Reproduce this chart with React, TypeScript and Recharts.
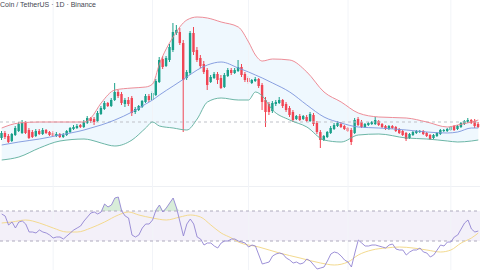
import {
  Area,
  Bar,
  ComposedChart,
  Line,
  ReferenceArea,
  ReferenceLine,
  XAxis,
  YAxis,
} from "recharts";

// daily candles (arbitrary price units)
const opens = [
  62, 67, 64, 59, 65, 69, 67, 77, 70, 68,
  64, 69, 66, 70, 68, 67, 64, 66, 63, 65,
  68, 71, 72, 75, 73, 77, 82, 81, 79, 86,
  91, 97, 94, 100, 108, 106, 96, 100, 102, 88,
  90, 93, 98, 104, 100, 105, 118, 141, 134, 140,
  150, 167, 168, 157, 122, 127, 167, 150, 142, 136,
  130, 118, 122, 126, 122, 113, 124, 130, 127, 129,
  133, 126, 122, 117, 119, 121, 115, 100, 96, 89,
  96, 97, 100, 96, 92, 88, 81, 84, 81, 83,
  79, 85, 77, 68, 60, 63, 67, 71, 74, 76,
  74, 72, 70, 67, 81, 78, 73, 75, 76, 76,
  79, 76, 74, 71, 74, 73, 71, 69, 67, 62,
  65, 67, 68, 69, 67, 65, 62, 64, 66, 69,
  69, 70, 74, 71, 73, 76, 78, 80, 79, 76,
];
const closes = [
  67, 63, 58, 66, 72, 76, 77, 67, 62, 63,
  69, 66, 70, 67, 65, 64, 66, 63, 65, 69,
  72, 73, 74, 73, 78, 82, 79, 78, 87, 92,
  97, 94, 100, 108, 104, 97, 100, 96, 87, 91,
  94, 99, 104, 100, 107, 119, 140, 133, 142, 153,
  168, 170, 157, 120, 128, 167, 148, 140, 134, 128,
  115, 123, 126, 120, 112, 125, 130, 127, 130, 133,
  125, 120, 118, 120, 121, 114, 98, 88, 88, 97,
  98, 100, 94, 90, 85, 80, 84, 80, 84, 79,
  86, 76, 68, 60, 64, 68, 72, 75, 77, 73,
  71, 69, 58, 80, 75, 73, 76, 77, 78, 80,
  75, 73, 71, 74, 72, 69, 67, 65, 61, 66,
  68, 69, 69, 66, 64, 61, 65, 67, 70, 70,
  71, 73, 70, 74, 77, 79, 80, 77, 74, 73,
];
const highs = [
  69, 69, 66, 67, 74, 78, 80, 79, 72, 70,
  71, 71, 72, 71, 69, 69, 68, 67, 67, 70,
  73, 75, 76, 76, 80, 84, 83, 83, 89, 94,
  99, 98, 102, 117, 110, 108, 102, 103, 104, 93,
  95, 100, 106, 106, 109, 121, 143, 144, 144, 156,
  177, 175, 172, 160, 130, 169, 173, 153, 145, 139,
  132, 125, 128, 128, 125, 127, 132, 132, 132, 140,
  136, 128, 124, 121, 123, 122, 117, 103, 98, 99,
  100, 103, 101, 98, 94, 90, 85, 86, 85, 85,
  88, 87, 79, 70, 65, 69, 74, 77, 79, 78,
  75, 73, 72, 82, 83, 80, 77, 78, 79, 83,
  80, 77, 75, 75, 75, 74, 72, 70, 68, 67,
  69, 70, 70, 70, 68, 66, 66, 68, 71, 71,
  72, 74, 75, 75, 78, 80, 82, 81, 81, 78,
];
const lows = [
  60, 61, 57, 58, 64, 68, 66, 66, 61, 62,
  63, 65, 65, 66, 64, 63, 63, 62, 62, 64,
  67, 70, 71, 72, 72, 76, 77, 75, 78, 85,
  90, 93, 93, 99, 102, 95, 93, 94, 84, 86,
  89, 92, 97, 98, 99, 104, 117, 131, 133, 138,
  148, 165, 155, 68, 120, 125, 145, 138, 132, 126,
  110, 117, 121, 116, 111, 112, 123, 125, 126, 128,
  123, 118, 116, 116, 118, 112, 90, 73, 85, 87,
  94, 96, 92, 88, 83, 78, 80, 79, 80, 78,
  78, 74, 66, 52, 59, 62, 66, 70, 73, 72,
  70, 68, 55, 66, 74, 72, 72, 74, 75, 75,
  74, 72, 70, 70, 71, 68, 66, 64, 59, 61,
  64, 66, 67, 65, 63, 60, 61, 63, 65, 68,
  68, 69, 69, 70, 72, 75, 77, 76, 72, 72,
];

// bollinger bands, read at these candle indices
const bbIndex = [0, 5, 11, 17, 24, 26, 29, 33, 38, 42, 44, 46, 50, 54, 57, 60, 64, 69, 72, 74, 76, 79, 84, 89, 94, 99, 104, 110, 118, 124, 130, 133, 137, 139];
const bbUpper = [72, 77, 78, 78, 78, 82, 97, 110, 112, 113, 116, 136, 163, 180, 183, 182, 178, 173, 158, 145, 139, 141, 140, 128, 108, 98, 87, 83, 82, 78, 73, 75, 78, 80];
const bbBasis = [55, 58, 61, 65, 70, 72, 75, 80, 88, 96, 100, 105, 114, 123, 130, 135, 138, 132, 128, 125, 122, 117, 108, 95, 83, 77, 73, 72, 70, 68, 67, 68, 72, 72];
const bbLower = [40, 43, 52, 59, 61, 60, 57, 54, 60, 72, 78, 74, 72, 70, 81, 98, 102, 100, 100, 108, 104, 90, 80, 73, 60, 58, 65, 66, 62, 61, 59, 58, 59, 60];

const lastLine = 78;

// RSI per candle
const rsiValues = [
  62, 60, 51, 54, 48, 54, 55, 52, 44, 44,
  43, 46, 44, 43, 41, 38, 39, 39, 37, 40,
  43, 46, 48, 50, 55, 59, 63, 64, 62, 64,
  72, 69, 71, 78, 79, 65, 60, 58, 41, 39,
  41, 48, 52, 52, 56, 66, 71, 64, 68, 73,
  78, 68, 54, 40, 52, 57, 52, 39, 37, 31,
  33, 33, 30, 28, 33, 35, 35, 37, 37, 35,
  34, 33, 29, 31, 30, 21, 12, 13, 14, 20,
  22, 23, 22, 18, 16, 13, 14, 12, 13, 17,
  15, 11, 7, 8, 9, 15, 22, 24, 23, 20,
  16, 14, 9, 23, 36, 33, 30, 30, 31, 31,
  30, 29, 28, 31, 32, 27, 26, 26, 21, 24,
  26, 26, 28, 24, 23, 19, 21, 26, 31, 30,
  34, 34, 39, 41, 47, 53, 56, 47, 44, 45,
];
const rsiMaIndex = [0, 3, 7, 11, 15, 19, 22, 26, 30, 34, 37, 40, 44, 48, 52, 55, 58, 61, 64, 67, 69, 75, 81, 87, 93, 97, 101, 104, 108, 112, 116, 120, 124, 128, 131, 134, 137, 139];
const rsiMaValues = [53, 54, 56, 53, 48, 44, 44, 48, 54, 61, 64, 61, 58, 56, 59, 61, 59, 51, 43, 38, 34, 29, 23, 18, 13, 11, 14, 21, 26, 28, 29, 28, 26, 24, 26, 33, 38, 43];
const rsiHigh = 65;
const rsiLow = 35;

const gridIndex = [15, 44, 72, 101, 131];

const UP = "#089981";
const DOWN = "#F23645";

const candles = opens.map((o, i) => ({ i, o, h: highs[i], l: lows[i], c: closes[i] }));
const bands = bbIndex.map((i, k) => ({ i, up: bbUpper[k], mid: bbBasis[k], low: bbLower[k] }));
const rsiRows = rsiValues.map((rsi, i) => ({ i, rsi }));
const rsiMa = rsiMaIndex.map((i, k) => ({ i, ma: rsiMaValues[k] }));

const Candle = (props: any) => {
  const { x, y, width, height, payload } = props;
  const { o, h, l, c } = payload;
  const color = c >= o ? UP : DOWN;
  const top = Math.min(y, y + height);
  const full = Math.abs(height);
  const k = full / Math.max(h - l, 0.001);
  const cx = x + width / 2;
  const b1 = top + (h - Math.max(o, c)) * k;
  const b2 = top + (h - Math.min(o, c)) * k;
  return (
    <g opacity={0.92}>
      <line x1={cx} x2={cx} y1={top} y2={top + full} stroke={color} strokeWidth={1} />
      <rect x={cx - 1.2} y={b1} width={2.4} height={Math.max(b2 - b1, 1)} fill={color} />
    </g>
  );
};

export default function App() {
  return (
    <div
      style={{
        position: "absolute",
        left: 0,
        top: 0,
        width: 480,
        height: 270,
        background: "#fff",
        overflow: "hidden",
        fontFamily: "Arial, 'Liberation Sans', sans-serif",
      }}
    >
      {/* Price pane */}
      <ComposedChart width={480} height={186} data={candles} margin={{ top: 0, right: 0, bottom: 0, left: 0 }}>
        <XAxis dataKey="i" type="number" domain={[-0.5, 139.5]} hide />
        <YAxis type="number" domain={[14, 200]} hide />
        {gridIndex.map((g) => (
          <ReferenceLine key={g} x={g} stroke="#f2f4f8" />
        ))}
        <Area
          data={bands}
          dataKey={(d: any) => [d.low, d.up]}
          type="monotone"
          stroke="none"
          fill="#2196f3"
          fillOpacity={0.07}
          isAnimationActive={false}
        />
        <ReferenceLine y={lastLine} stroke="#bfc1c8" strokeDasharray="3 3" />
        <Line data={bands} dataKey="up" type="monotone" stroke="#ec808b" strokeWidth={0.9} dot={false} isAnimationActive={false} />
        <Line data={bands} dataKey="mid" type="monotone" stroke="#7d95dc" strokeWidth={0.9} dot={false} isAnimationActive={false} />
        <Line data={bands} dataKey="low" type="monotone" stroke="#5cae9c" strokeWidth={0.9} dot={false} isAnimationActive={false} />
        <Bar dataKey={(d: any) => [d.l, d.h]} barSize={3} shape={Candle} isAnimationActive={false} />
      </ComposedChart>

      <div
        style={{
          position: "absolute",
          left: 0,
          top: 0,
          fontSize: 7,
          lineHeight: "9px",
          color: "#434651",
          whiteSpace: "nowrap",
        }}
      >
        Coin / TetherUS · 1D · Binance
      </div>

      <div style={{ position: "absolute", left: 0, top: 186, width: 480, height: 1, background: "#eef0f4" }} />

      {/* RSI pane */}
      <div style={{ position: "absolute", left: 0, top: 186 }}>
        <ComposedChart width={480} height={84} data={rsiRows} margin={{ top: 0, right: 0, bottom: 0, left: 0 }}>
          <XAxis dataKey="i" type="number" domain={[-0.5, 139.5]} hide />
          <YAxis type="number" domain={[6, 90]} hide />
          {gridIndex.map((g) => (
            <ReferenceLine key={g} x={g} stroke="#f2f4f8" />
          ))}
          <ReferenceArea y1={rsiLow} y2={rsiHigh} fill="#7e57c2" fillOpacity={0.09} stroke="none" />
          <ReferenceLine y={rsiHigh} stroke="#aeaabd" strokeDasharray="3 3" />
          <ReferenceLine y={rsiLow} stroke="#aeaabd" strokeDasharray="3 3" />
          <Area
            dataKey={(d: any) => [rsiHigh, Math.max(rsiHigh, d.rsi)]}
            type="linear"
            stroke="none"
            fill="#4caf50"
            fillOpacity={0.22}
            isAnimationActive={false}
          />
          <Line data={rsiMa} dataKey="ma" type="monotone" stroke="#f3da8f" strokeWidth={1} dot={false} isAnimationActive={false} />
          <Line dataKey="rsi" type="linear" stroke="#9284d3" strokeWidth={0.9} dot={false} isAnimationActive={false} />
        </ComposedChart>
      </div>
    </div>
  );
}
